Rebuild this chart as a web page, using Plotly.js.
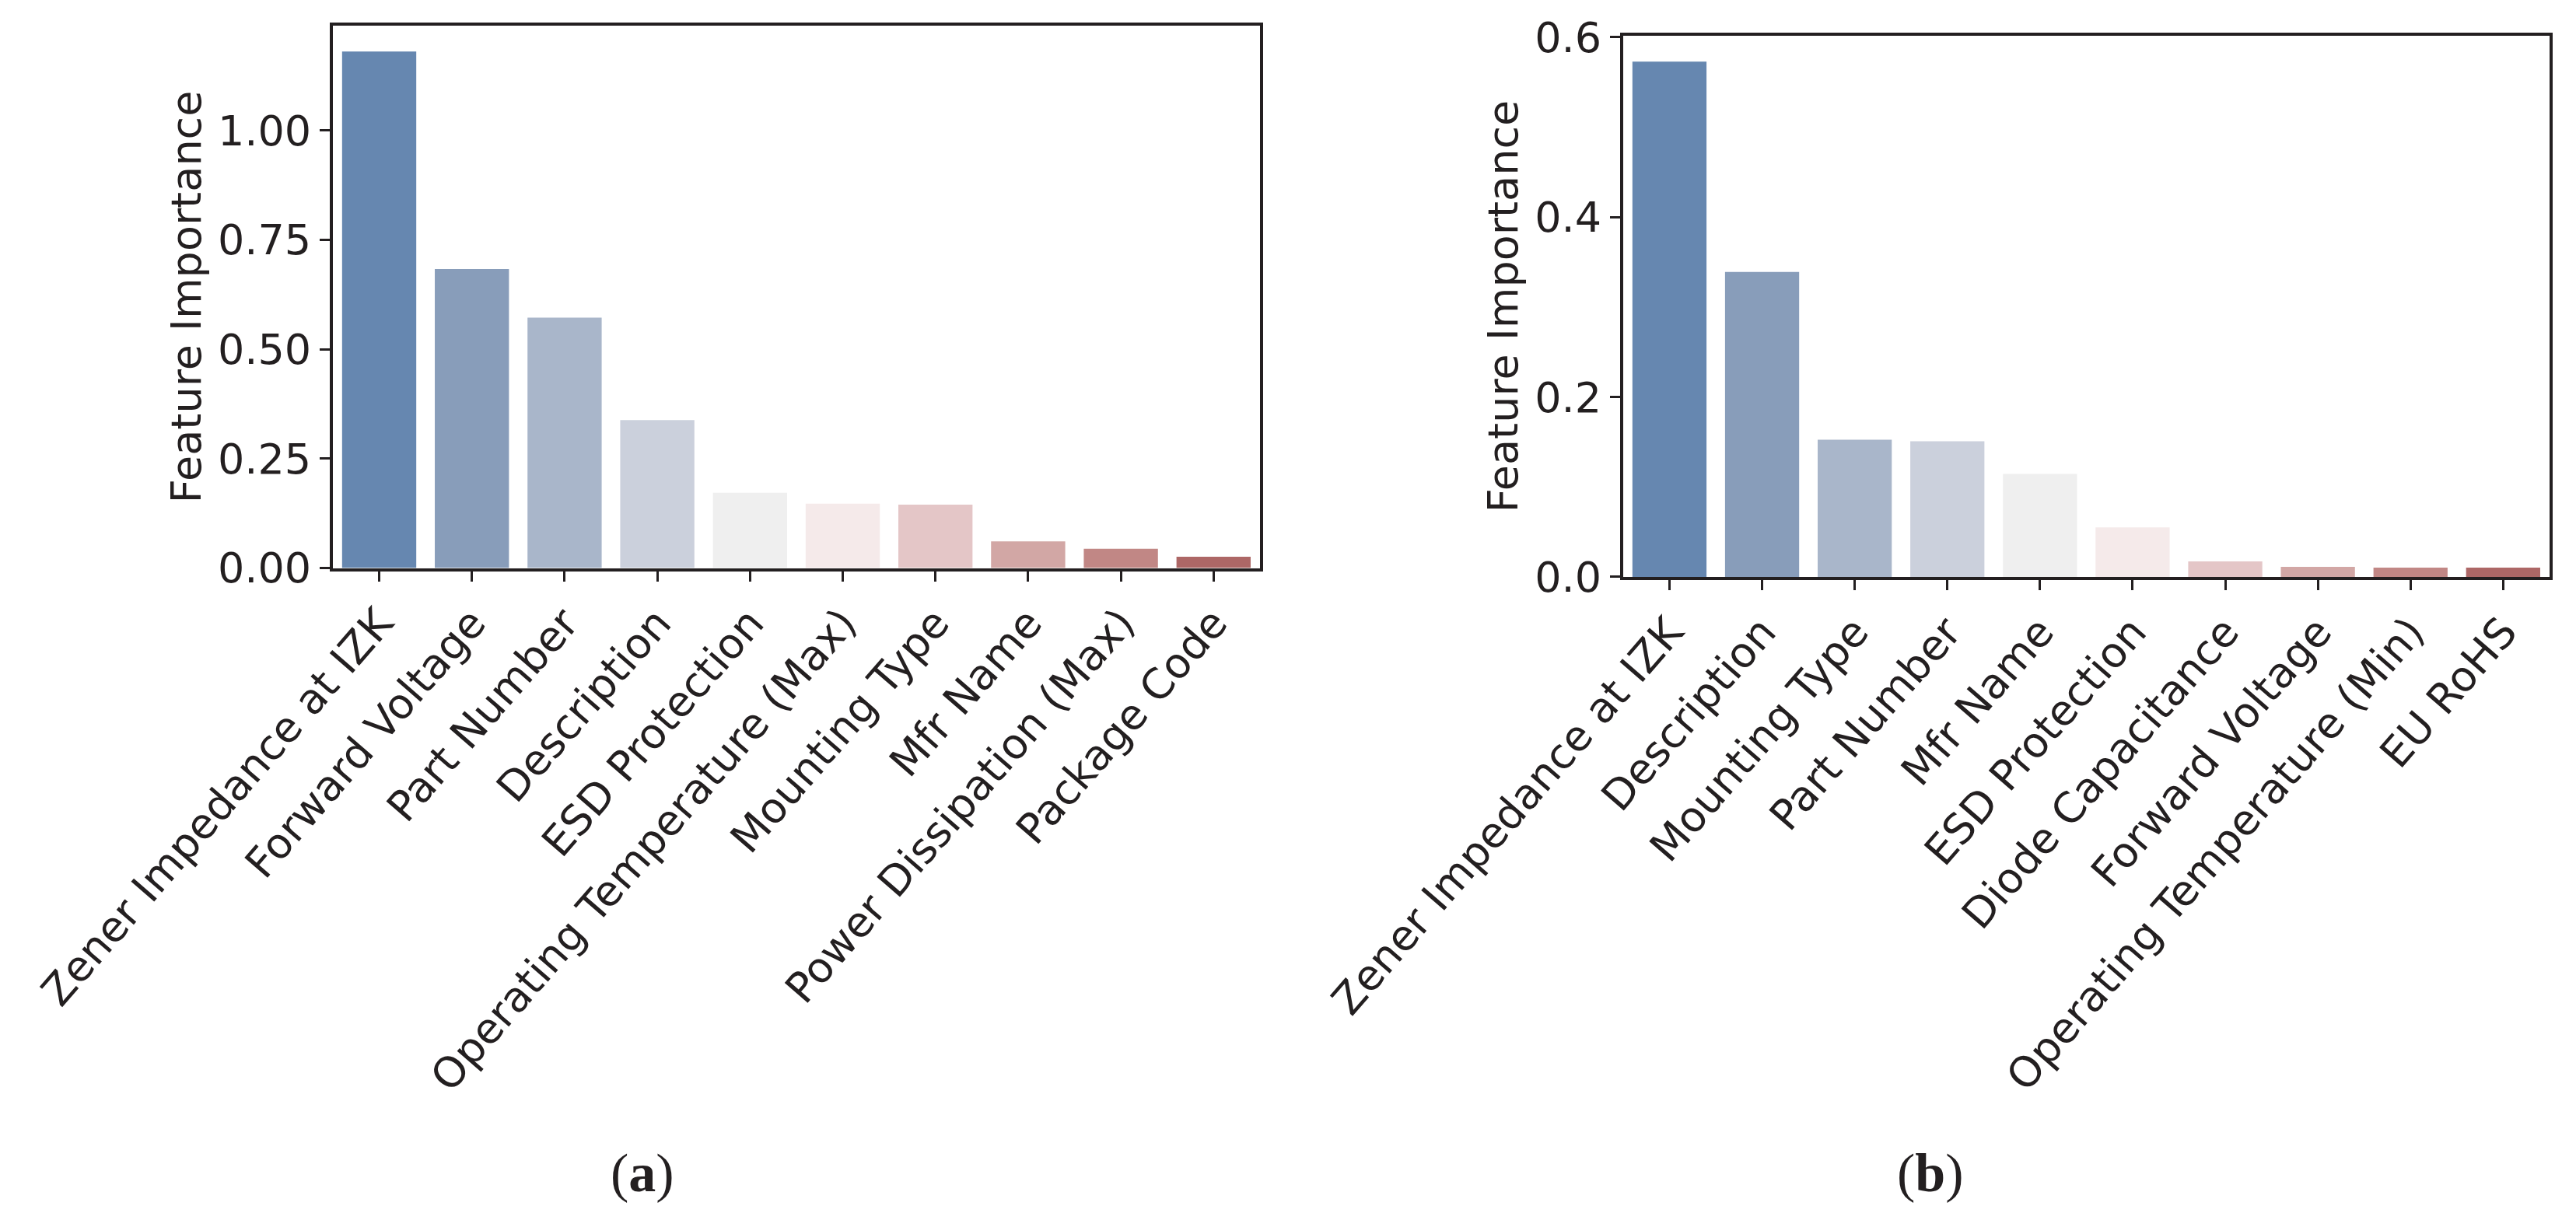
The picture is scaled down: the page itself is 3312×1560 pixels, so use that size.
<!DOCTYPE html>
<html>
<head>
<meta charset="utf-8">
<script src="https://cdn.plot.ly/plotly-3.0.1.min.js"></script>
<style>
  body { margin: 0; background: #fff; }
  #plot { width: 3312px; height: 1560px; }
</style>
</head>
<body>
<div id="plot"></div>
<script>
var featuresA = ["Zener Impedance at IZK", "Forward Voltage", "Part Number", "Description",
  "ESD Protection", "Operating Temperature (Max)", "Mounting Type", "Mfr Name",
  "Power Dissipation (Max)", "Package Code"];
var importanceA = [1.18, 0.683, 0.572, 0.338, 0.172, 0.147, 0.145, 0.061, 0.044, 0.026];

var featuresB = ["Zener Impedance at IZK", "Description", "Mounting Type", "Part Number",
  "Mfr Name", "ESD Protection", "Diode Capacitance", "Forward Voltage",
  "Operating Temperature (Min)", "EU RoHS"];
var importanceB = [0.573, 0.339, 0.1525, 0.1508, 0.1145, 0.055, 0.0172, 0.0112, 0.0103, 0.0103];

var palette = ["#6687b0", "#889dba", "#a9b6ca", "#cbd0dc", "#efefef",
  "#f5eaea", "#e4c6c7", "#d2a7a5", "#c18785", "#ad6766"];

var ink = "#231f20";
var fontFam = "DejaVu Sans";

var traceA = {
  x: featuresA,
  y: importanceA,
  type: "bar",
  width: 0.8,
  marker: {color: palette, line: {width: 0}},
  xaxis: "x",
  yaxis: "y",
  hoverinfo: "x+y"
};
var traceB = {
  x: featuresB,
  y: importanceB,
  type: "bar",
  width: 0.8,
  marker: {color: palette, line: {width: 0}},
  xaxis: "x2",
  yaxis: "y2",
  hoverinfo: "x+y"
};

function xAxis(domain, anchor) {
  return {
    domain: domain,
    anchor: anchor,
    type: "category",
    range: [-0.5, 9.5],
    tickangle: -49,
    ticks: "outside",
    ticklen: 13,
    tickwidth: 3,
    tickcolor: ink,
    showline: true,
    mirror: true,
    linewidth: 4,
    linecolor: ink,
    showgrid: false,
    zeroline: false,
    tickfont: {family: fontFam, size: 54, color: ink}
  };
}
function yAxis(domain, anchor, range, dtick, fmt) {
  return {
    domain: domain,
    anchor: anchor,
    range: range,
    dtick: dtick,
    tick0: 0,
    tickformat: fmt,
    ticks: "outside",
    ticklen: 13,
    tickwidth: 3,
    tickcolor: ink,
    showline: true,
    mirror: true,
    linewidth: 4,
    linecolor: ink,
    showgrid: false,
    zeroline: false,
    tickfont: {family: fontFam, size: 54, color: ink},
    title: {text: "Feature Importance", font: {family: fontFam, size: 54, color: ink}, standoff: 5}
  };
}

var data = [traceA, traceB];
var layout = {
  width: 3312,
  height: 1560,
  margin: {l: 0, r: 0, t: 0, b: 0},
  paper_bgcolor: "#ffffff",
  plot_bgcolor: "#ffffff",
  showlegend: false,
  bargap: 0.2,
  xaxis: xAxis([0.1292, 0.4891], "y"),
  yaxis: yAxis([0.5317, 0.9788], "x", [0, 1.239], 0.25, ".2f"),
  xaxis2: xAxis([0.6301, 0.9897], "y2"),
  yaxis2: yAxis([0.5244, 0.9705], "x2", [0, 0.6017], 0.2, ".1f"),
  annotations: [
    {text: "(<b>a</b>)", x: 826 / 3312, y: 1 - 1508 / 1560, xref: "paper", yref: "paper",
      xanchor: "center", yanchor: "middle", showarrow: false,
      font: {family: "Liberation Serif", size: 70, color: ink}},
    {text: "(<b>b</b>)", x: 2482 / 3312, y: 1 - 1508 / 1560, xref: "paper", yref: "paper",
      xanchor: "center", yanchor: "middle", showarrow: false,
      font: {family: "Liberation Serif", size: 70, color: ink}}
  ]
};

Plotly.newPlot("plot", data, layout, {staticPlot: true});
</script>
</body>
</html>
